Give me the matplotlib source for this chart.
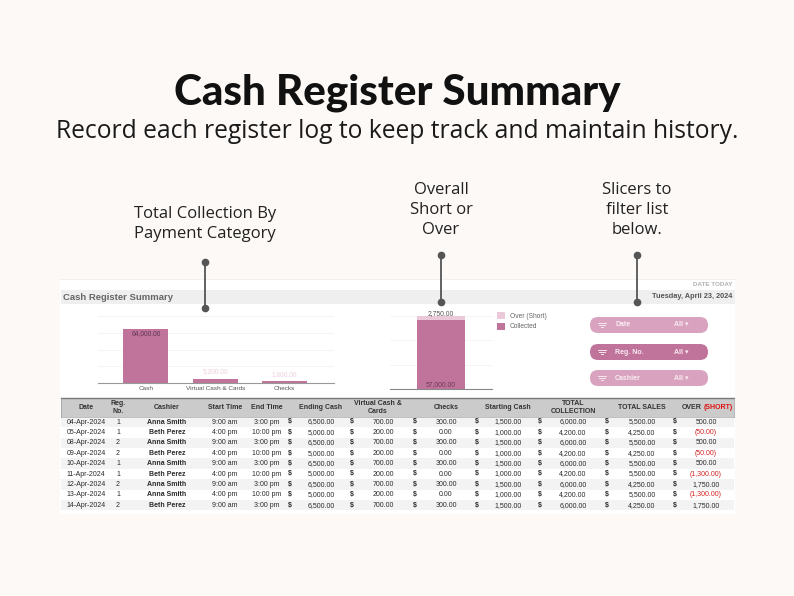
import matplotlib
matplotlib.use("Agg")
import matplotlib.pyplot as plt
from matplotlib.patches import Rectangle, FancyBboxPatch

# Chart values
categories = ["Cash", "Virtual Cash & Cards", "Checks"]
collection = [64000, 5200, 1800]
collected = [57000]
over_short = [2750]

# Table values
dates = ["04-Apr-2024", "05-Apr-2024", "08-Apr-2024", "09-Apr-2024", "10-Apr-2024",
         "11-Apr-2024", "12-Apr-2024", "13-Apr-2024", "14-Apr-2024"]
reg_no = ["1", "1", "2", "2", "1", "1", "2", "1", "2"]
cashier = ["Anna Smith", "Beth Perez", "Anna Smith", "Beth Perez", "Anna Smith",
           "Beth Perez", "Anna Smith", "Anna Smith", "Beth Perez"]
start_time = ["9:00 am", "4:00 pm"] * 4 + ["9:00 am"]
end_time = ["3:00 pm", "10:00 pm"] * 4 + ["3:00 pm"]
ending_cash = ["6,500.00", "5,000.00"] * 4 + ["6,500.00"]
virtual_cash = ["700.00", "200.00"] * 4 + ["700.00"]
checks = ["300.00", "0.00"] * 4 + ["300.00"]
starting_cash = ["1,500.00", "1,000.00"] * 4 + ["1,500.00"]
total_collection = ["6,000.00", "4,200.00"] * 4 + ["6,000.00"]
total_sales = ["5,500.00", "4,250.00", "5,500.00", "4,250.00", "5,500.00",
               "5,500.00", "4,250.00", "5,500.00", "4,250.00"]
over = ["500.00", "(50.00)", "500.00", "(50.00)", "500.00",
        "(1,300.00)", "1,750.00", "(1,300.00)", "1,750.00"]

W, H = 794, 596
BAR = "#c0739b"
LIGHT = "#ecc9d9"
SANS = "Liberation Sans"
NOTO = "Open Sans"

fig = plt.figure(figsize=(W / 100, H / 100), dpi=100, facecolor="#fdf9f6")

# page axes in pixel coordinates, used for all the layout
page = fig.add_axes([0, 0, 1, 1])
page.set_xlim(0, W)
page.set_ylim(H, 0)
page.axis("off")


def px_axes(x0, y0, x1, y1):
    # inset axes from pixel box (y0 top, y1 bottom)
    ax = fig.add_axes([x0 / W, 1 - y1 / H, (x1 - x0) / W, (y1 - y0) / H])
    ax.patch.set_alpha(0)
    return ax


# headline
page.text(397, 93, "Cash Register Summary", ha="center", va="center",
          fontsize=30.3, fontweight="black", family="Lato", color="#111111")
page.text(397, 132, "Record each register log to keep track and maintain history.",
          ha="center", va="center", fontsize=17.75, family=NOTO, color="#1a1a1a")

# callouts
page.text(205, 224, "Total Collection By\nPayment Category", ha="center", va="center",
          fontsize=12, family=NOTO, color="#222222", linespacing=1.33)
page.text(441, 210, "Overall\nShort or\nOver", ha="center", va="center",
          fontsize=12, family=NOTO, color="#222222", linespacing=1.33)
page.text(637, 210, "Slicers to\nfilter list\nbelow.", ha="center", va="center",
          fontsize=12, family=NOTO, color="#222222", linespacing=1.33)

# white panel and title band
page.add_patch(Rectangle((60, 279), 675, 235, fc="white", ec="none", zorder=0))
page.plot([60, 735], [279, 279], color="#eeeeee", lw=0.6, zorder=1)
page.add_patch(Rectangle((61, 290), 674, 14, fc="#efefef", ec="none", zorder=1))
page.text(63, 297, "Cash Register Summary", ha="left", va="center",
          fontsize=6.8, fontweight="bold", family=SANS, color="#666666")
page.text(732, 285, "DATE TODAY", ha="right", va="center",
          fontsize=4.5, fontweight="bold", family=SANS, color="#b0b0b0")
page.text(732, 296.5, "Tuesday, April 23, 2024", ha="right", va="center",
          fontsize=5.35, fontweight="bold", family=SANS, color="#555555")

for x, y0, y1 in [(205, 262, 308), (441, 255, 302), (637, 255, 302)]:
    page.plot([x, x], [y0, y1], color="#555555", lw=1.3, zorder=5)
    page.plot([x, x], [y0, y1], ls="none", marker="o", ms=4.5, color="#555555", zorder=5)

# collection by payment category
ax1 = px_axes(98, 316, 334, 383)
ax1.bar(range(len(categories)), collection, width=0.65, color=BAR)
ax1.set_xlim(-0.69, 2.71)
ax1.set_ylim(0, 80000)
ax1.set_yticks([20000, 40000, 60000, 80000])
ax1.set_yticklabels([])
ax1.set_xticks(range(len(categories)))
ax1.set_xticklabels(categories, fontsize=4.6, family=SANS, color="#555555")
ax1.tick_params(length=0, pad=2)
ax1.grid(axis="y", color="#f3f3f3", lw=0.6)
ax1.set_axisbelow(True)
for s in ["top", "left", "right"]:
    ax1.spines[s].set_visible(False)
ax1.spines["bottom"].set_color("#999999")
ax1.spines["bottom"].set_linewidth(0.8)
ax1.text(0, collection[0] - 1200, f"{collection[0]:,.2f}", ha="center", va="top",
         fontsize=4.8, family=SANS, color="#5e3550")
for i in [1, 2]:
    ax1.text(i, collection[i] + 4500, f"{collection[i]:,.2f}", ha="center", va="bottom",
             fontsize=4.8, family=SANS, color="#ecd0dc")

# overall short or over
ax2 = px_axes(390, 316, 492, 389)
h1 = ax2.bar([0], collected, width=0.48, color=BAR, label="Collected")
h2 = ax2.bar([0], over_short, bottom=collected, width=0.48, color=LIGHT, label="Over (Short)")
ax2.set_xlim(-0.5, 0.5)
ax2.set_ylim(0, 60000)
ax2.set_yticks([20000, 40000, 60000])
ax2.set_yticklabels([])
ax2.set_xticks([])
ax2.tick_params(length=0)
ax2.grid(axis="y", color="#f3f3f3", lw=0.6)
ax2.set_axisbelow(True)
for s in ["top", "left", "right"]:
    ax2.spines[s].set_visible(False)
ax2.spines["bottom"].set_color("#888888")
ax2.spines["bottom"].set_linewidth(0.8)
ax2.text(0, collected[0] + over_short[0] - 600, f"{over_short[0]:,.2f}", ha="center", va="bottom",
         fontsize=4.9, family=SANS, color="#555555", clip_on=False)
ax2.text(0, 1000, f"{collected[0]:,.2f}", ha="center", va="bottom",
         fontsize=4.9, family=SANS, color="#6b3a55")
leg = fig.legend([h2, h1], ["Over (Short)", "Collected"], loc="upper left",
                 bbox_to_anchor=(491 / W, 1 - 306 / H), frameon=False,
                 prop={"family": SANS, "size": 4.8}, handlelength=1.2, handleheight=1.2,
                 handletextpad=0.7, labelspacing=0.45, labelcolor="#666666")

# slicers
slicers = [("Date", 317, "#d9a3bf"), ("Reg. No.", 344, "#c0739b"), ("Cashier", 370, "#d9a3bf")]
for name, y, col in slicers:
    page.add_patch(FancyBboxPatch((590, y), 118, 16, boxstyle="round,pad=0,rounding_size=8",
                                  fc=col, ec="none", zorder=2))
    for dy, half in [(5.8, 4), (8, 2.6), (10.2, 1.2)]:
        page.plot([602 - half, 602 + half], [y + dy, y + dy], color="#f6e6ee", lw=0.7, zorder=3)
    page.text(615, y + 8, name, ha="left", va="center", fontsize=5.0, fontweight="bold",
              family=SANS, color="#f8ecf2", zorder=3)
    page.text(674, y + 8, "All \u25be", ha="left", va="center", fontsize=5.0, fontweight="bold",
              family=[SANS, "DejaVu Sans"], color="#f8ecf2", zorder=3)

# table
page.add_patch(Rectangle((61, 398), 673, 19, fc="#cbcbcb", ec="none", zorder=1))
page.plot([61, 734], [398, 398], color="#777777", lw=1.0, zorder=2)
page.plot([61, 734], [417, 417], color="#aaaaaa", lw=0.5, zorder=2)
page.plot([61, 61], [398, 417], color="#999999", lw=0.5, zorder=2)
page.plot([734, 734], [398, 417], color="#999999", lw=0.5, zorder=2)

headers = [("Date", 86), ("Reg.\nNo.", 118), ("Cashier", 167), ("Start Time", 225),
           ("End Time", 267), ("Ending Cash", 321), ("Virtual Cash &\nCards", 378),
           ("Checks", 446), ("Starting Cash", 508), ("TOTAL\nCOLLECTION", 573),
           ("TOTAL SALES", 642)]
for label, x in headers:
    page.text(x, 407.5, label, ha="center", va="center", fontsize=5.0, fontweight="bold",
              family=SANS, color="#333333", linespacing=1.05, zorder=3)
page.text(702, 407.5, "OVER", ha="right", va="center", fontsize=5.0, fontweight="bold",
          family=SANS, color="#333333", zorder=3)
page.text(704, 407.5, "(SHORT)", ha="left", va="center", fontsize=5.0, fontweight="bold",
          family=SANS, color="#e01010", zorder=3)

text_cols = [(dates, 86, "normal"), (reg_no, 118, "normal"), (cashier, 167, "bold"),
             (start_time, 225, "normal"), (end_time, 267, "normal")]
money_cols = [(ending_cash, 290, 321), (virtual_cash, 352, 383), (checks, 415, 446),
              (starting_cash, 477, 508), (total_collection, 540, 573),
              (total_sales, 607, 642), (over, 675, 706)]
row_h = 10.4
for r in range(len(dates)):
    y = 422 + r * row_h
    if r % 2 == 0:
        page.add_patch(Rectangle((61, y - row_h / 2), 673, row_h, fc="#f3f3f3", ec="none", zorder=1))
    for col, x, weight in text_cols:
        page.text(x, y, col[r], ha="center", va="center", fontsize=5.0, fontweight=weight,
                  family=SANS, color="#2a2a2a", zorder=3)
    for col, xd, xv in money_cols:
        page.text(xd, y, "$", ha="center", va="center", fontsize=5.0, fontweight="bold",
                  family=SANS, color="#2a2a2a", zorder=3)
        color = "#d42020" if col[r].startswith("(") else "#2a2a2a"
        page.text(xv, y, col[r], ha="center", va="center", fontsize=5.0,
                  family=SANS, color=color, zorder=3)

fig.savefig("out.png", dpi=100, facecolor=fig.get_facecolor())
